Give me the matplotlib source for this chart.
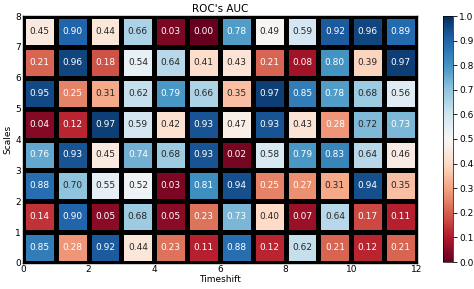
import matplotlib
matplotlib.use("Agg")
import matplotlib.pyplot as plt
import numpy as np

title = "ROC's AUC"
xlabel = "Timeshift"
ylabel = "Scales"
# rows listed from bottom (scale 0) to top (scale 7)
row0 = [0.85, 0.28, 0.92, 0.44, 0.23, 0.11, 0.88, 0.12, 0.62, 0.21, 0.12, 0.21]
row1 = [0.14, 0.90, 0.05, 0.68, 0.05, 0.23, 0.73, 0.40, 0.07, 0.64, 0.17, 0.11]
row2 = [0.88, 0.70, 0.55, 0.52, 0.03, 0.81, 0.94, 0.25, 0.27, 0.31, 0.94, 0.35]
row3 = [0.76, 0.93, 0.45, 0.74, 0.68, 0.93, 0.02, 0.58, 0.79, 0.83, 0.64, 0.46]
row4 = [0.04, 0.12, 0.97, 0.59, 0.42, 0.93, 0.47, 0.93, 0.43, 0.28, 0.72, 0.73]
row5 = [0.95, 0.25, 0.31, 0.62, 0.79, 0.66, 0.35, 0.97, 0.85, 0.78, 0.68, 0.56]
row6 = [0.21, 0.96, 0.18, 0.54, 0.64, 0.41, 0.43, 0.21, 0.08, 0.80, 0.39, 0.97]
row7 = [0.45, 0.90, 0.44, 0.66, 0.03, 0.00, 0.78, 0.49, 0.59, 0.92, 0.96, 0.89]

data = np.array([row0, row1, row2, row3, row4, row5, row6, row7])
nrows, ncols = data.shape

fig = plt.figure(figsize=(4.74, 2.89), dpi=100)
ax = fig.add_axes([23/474, 1-263/289, (417-23)/474, (263-16)/289])
cax = fig.add_axes([443/474, 1-262/289, 10/474, (262-16)/289])

mesh = ax.pcolormesh(np.arange(ncols+1), np.arange(nrows+1), data,
                     cmap="RdBu", vmin=0, vmax=1, edgecolors="black", linewidth=2.5)
for i in range(nrows):
    for j in range(ncols):
        v = data[i, j]
        col = "white" if (v < 0.3 or v > 0.725) else "#262626"
        ax.text(j + 0.5, i + 0.5, f"{v:.2f}", ha="center", va="center",
                fontsize=6.5, color=col)

ax.set_xlim(0, ncols)
ax.set_ylim(0, nrows)
ax.set_xticks(np.arange(0, ncols+1, 2))
ax.set_yticks(np.arange(0, nrows+1, 1))
ax.tick_params(labelsize=6.5, length=0, pad=1.5)
ax.set_title(title, fontsize=7.5, pad=3)
ax.set_xlabel(xlabel, fontsize=6.5, labelpad=1)
ax.set_ylabel(ylabel, fontsize=6.5, labelpad=2)
for s in ax.spines.values():
    s.set_linewidth(1.0)

cb = fig.colorbar(mesh, cax=cax)
cb.set_ticks(np.arange(0, 1.01, 0.1))
cb.ax.tick_params(labelsize=6.5, length=3, width=0.6, pad=1.5)
cb.outline.set_linewidth(0.5)

fig.savefig("out.png", dpi=100)
